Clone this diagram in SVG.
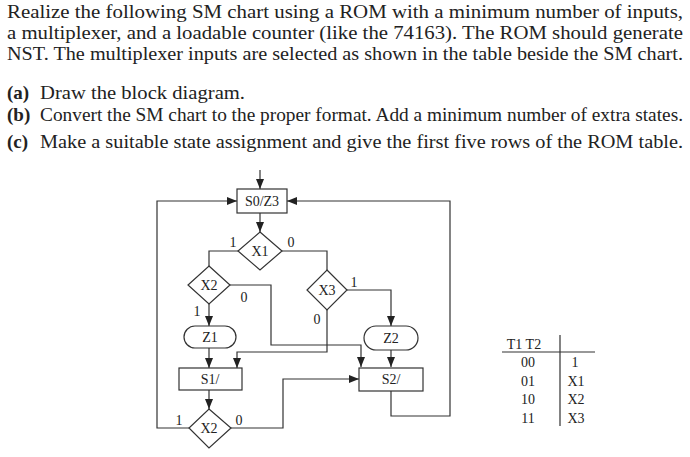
<svg xmlns="http://www.w3.org/2000/svg" width="690" height="457" viewBox="0 0 690 457">
<defs>
<marker id="ah" markerWidth="10" markerHeight="8" refX="10" refY="4" orient="auto" markerUnits="userSpaceOnUse">
<path d="M0,0 L10,4 L0,8 Z" fill="#222"/>
</marker>
<style>
.t{font-family:"Liberation Serif","Times New Roman",serif;fill:#222}
.p{font-size:19px}
.b{font-weight:bold}
.d{font-size:14px}
.s{fill:#fff;stroke:#333;stroke-width:1.2}
.c{fill:none;stroke:#333;stroke-width:1.2}
.a{marker-end:url(#ah)}
</style>
</defs>
<rect width="690" height="457" fill="#fff"/>
<g id="problem" class="t p">
<text x="7" y="18" textLength="676" lengthAdjust="spacingAndGlyphs">Realize the following SM chart using a ROM with a minimum number of inputs,</text>
<text x="7" y="39" textLength="676" lengthAdjust="spacingAndGlyphs">a multiplexer, and a loadable counter (like the 74163). The ROM should generate</text>
<text x="7" y="60" textLength="676" lengthAdjust="spacingAndGlyphs">NST. The multiplexer inputs are selected as shown in the table beside the SM chart.</text>
<text class="b" x="7" y="99">(a)</text>
<text x="40" y="99" textLength="205" lengthAdjust="spacingAndGlyphs">Draw the block diagram.</text>
<text class="b" x="7" y="121">(b)</text>
<text x="40" y="121" textLength="643" lengthAdjust="spacingAndGlyphs">Convert the SM chart to the proper format. Add a minimum number of extra states.</text>
<text class="b" x="7" y="148">(c)</text>
<text x="40" y="148" textLength="643" lengthAdjust="spacingAndGlyphs">Make a suitable state assignment and give the first five rows of the ROM table.</text>
</g>
<g id="connectors">
<path class="c a" d="M260,170 V189"/>
<path class="c a" d="M260,213 V232"/>
<path class="c" d="M242,251 H209 V266"/>
<path class="c" d="M282,251 H327 V270"/>
<path class="c a" d="M230,285 H271 V345 H361 V367"/>
<path class="c a" d="M209,304 V326"/>
<path class="c a" d="M209,348 V368"/>
<path class="c a" d="M327,310 V352 H237 V368"/>
<path class="c a" d="M347,290 H391 V326"/>
<path class="c a" d="M391,350 V367"/>
<path class="c a" d="M209,390 V409"/>
<path class="c a" d="M189,428 H157 V201 H237"/>
<path class="c a" d="M231,428 H283 V379 H359"/>
<path class="c a" d="M391,391 V416 H450 V201 H287"/>
</g>
<g id="S0">
<rect class="s" x="237" y="189" width="50" height="24"/>
<text class="t d" x="262" y="206" text-anchor="middle">S0/Z3</text>
</g>
<g id="X1">
<path class="s" d="M260,232 L282,251 L260,270 L238,251 Z"/>
<text class="t d" x="260" y="256" text-anchor="middle">X1</text>
<text class="t d" x="233" y="247" text-anchor="middle">1</text>
<text class="t d" x="291" y="247" text-anchor="middle">0</text>
</g>
<g id="X2a">
<path class="s" d="M209,266 L230,285 L209,304 L188,285 Z"/>
<text class="t d" x="209" y="290" text-anchor="middle">X2</text>
<text class="t d" x="244" y="302" text-anchor="middle">0</text>
<text class="t d" x="197" y="316" text-anchor="middle">1</text>
</g>
<g id="X3">
<path class="s" d="M327,270 L347,290 L327,310 L307,290 Z"/>
<text class="t d" x="327" y="295" text-anchor="middle">X3</text>
<text class="t d" x="354" y="287" text-anchor="middle">1</text>
<text class="t d" x="317" y="324" text-anchor="middle">0</text>
</g>
<g id="Z1">
<rect class="s" x="184" y="326" width="52" height="22" rx="11"/>
<text class="t d" x="210" y="342" text-anchor="middle">Z1</text>
</g>
<g id="Z2">
<rect class="s" x="364" y="326" width="54" height="24" rx="12"/>
<text class="t d" x="391" y="343" text-anchor="middle">Z2</text>
</g>
<g id="S1">
<rect class="s" x="179" y="368" width="63" height="22"/>
<text class="t d" x="210" y="384" text-anchor="middle">S1/</text>
</g>
<g id="S2">
<rect class="s" x="359" y="368" width="64" height="23"/>
<text class="t d" x="391" y="384" text-anchor="middle">S2/</text>
</g>
<g id="X2b">
<path class="s" d="M209,409 L231,428 L209,448 L189,428 Z"/>
<text class="t d" x="209" y="433" text-anchor="middle">X2</text>
<text class="t d" x="179" y="425" text-anchor="middle">1</text>
<text class="t d" x="239" y="425" text-anchor="middle">0</text>
</g>
<g id="table" class="t d">
<path class="c" d="M502,352 H595 M560,335 V426"/>
<text x="524" y="349" text-anchor="middle">T1 T2</text>
<text x="528" y="367" text-anchor="middle">00</text>
<text x="528" y="386" text-anchor="middle">01</text>
<text x="528" y="404" text-anchor="middle">10</text>
<text x="528" y="423" text-anchor="middle">11</text>
<text x="575" y="367" text-anchor="middle">1</text>
<text x="576" y="386" text-anchor="middle">X1</text>
<text x="576" y="404" text-anchor="middle">X2</text>
<text x="576" y="423" text-anchor="middle">X3</text>
</g>
</svg>
